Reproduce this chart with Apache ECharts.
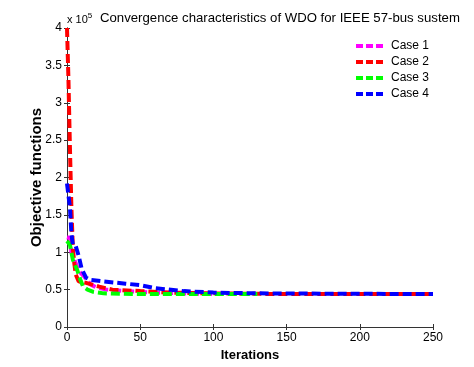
<!DOCTYPE html>
<html><head><meta charset="utf-8">
<script src="https://cdn.jsdelivr.net/npm/echarts@6/dist/echarts.min.js"></script>
<style>html,body{margin:0;padding:0;background:#fff}#c{width:474px;height:367px}</style>
</head><body><div id="c"></div>
<script>
const seriesNames = ['Case 1', 'Case 2', 'Case 3', 'Case 4'];
const xTicks = [0, 50, 100, 150, 200, 250];
const yTicks = [0, 0.5, 1, 1.5, 2, 2.5, 3, 3.5, 4];
// values in units of 1e5, [iteration, value]
const case1 = [[0,1.2],[2,1.19],[3,1.0],[5,0.9],[8,0.75],[12,0.67],[16,0.57],[20,0.53],[27,0.5],[40,0.48],[60,0.46],[80,0.45],[100,0.44]];
const case2 = [[0,4.0],[1,3.3],[2,2.4],[3,1.6],[4,1.05],[5,0.85],[6,0.7],[8,0.61],[13,0.59],[22,0.54],[31,0.5],[50,0.48],[70,0.46],[100,0.45],[150,0.44],[250,0.44]];
const case3 = [[0,1.15],[2,1.1],[4,0.9],[7,0.76],[9,0.64],[11,0.54],[14,0.5],[18,0.47],[25,0.45],[50,0.44],[90,0.44],[130,0.44]];
const case4 = [[0,1.92],[1,1.9],[2,1.6],[3,1.25],[4,1.1],[6,1.08],[8,0.95],[10,0.78],[13,0.66],[16,0.63],[25,0.61],[40,0.58],[50,0.56],[60,0.52],[80,0.48],[100,0.46],[130,0.45],[250,0.44]];
const colors = ['#ff00ff', '#ff0000', '#00ff00', '#0000ff'];
const allData = [case1, case2, case3, case4];

const chart = echarts.init(document.getElementById('c'), null, {renderer: 'canvas'});
const font = 'Liberation Sans, Arial, sans-serif';
const axisCommon = {
  axisLine: {show: true, lineStyle: {color: '#333', width: 1}},
  axisTick: {show: true, inside: true, length: 3, lineStyle: {color: '#333'}},
  splitLine: {show: false}
};
chart.setOption({
  animation: false,
  backgroundColor: '#fff',
  title: {
    text: 'Convergence characteristics of WDO for IEEE 57-bus sustem',
    left: 95, top: 7,
    textStyle: {fontFamily: font, fontSize: 13.2, fontWeight: 'normal', color: '#000'}
  },
  graphic: [{
    type: 'text', left: 67, top: 12,
    style: {
      text: 'x 10{sup|5}',
      rich: {sup: {fontSize: 8, verticalAlign: 'top', padding: [0,0,8,0], fontFamily: font, fill: '#000'}},
      font: '11px ' + font, fill: '#000'
    }
  }],
  legend: {
    orient: 'vertical', left: 349, top: 35,
    itemWidth: 27, itemHeight: 5, itemGap: 4,
    data: seriesNames.map((n, i) => ({name: n, lineStyle: {width: 4, type: [7, 3], color: colors[i]}})),
    textStyle: {fontFamily: font, fontSize: 12, color: '#000', padding: [0,0,0,3]}
  },
  grid: {left: 67, right: 41, top: 28, bottom: 40, containLabel: false},
  xAxis: [{
    type: 'value', min: 0, max: 250, interval: 50,
    name: 'Iterations', nameLocation: 'middle', nameGap: 19,
    nameTextStyle: {fontFamily: font, fontSize: 13, fontWeight: 'bold', color: '#000'},
    axisLabel: {fontFamily: font, fontSize: 12, color: '#000', margin: 5,
      formatter: v => xTicks.includes(v) ? String(v) : ''},
    ...axisCommon
  }, {
    type: 'value', position: 'top', min: 0, max: 250, interval: 50,
    axisLabel: {show: false}, ...axisCommon
  }],
  yAxis: [{
    type: 'value', min: 0, max: 4, interval: 0.5,
    name: 'Objective functions', nameLocation: 'middle', nameGap: 23, nameRotate: 90,
    nameMoveOverlap: false,
    nameTextStyle: {fontFamily: font, fontSize: 15, fontWeight: 'bold', color: '#000'},
    axisLabel: {fontFamily: font, fontSize: 12, color: '#000', margin: 5,
      formatter: v => yTicks.includes(v) ? String(v) : ''},
    ...axisCommon
  }, {
    type: 'value', position: 'right', min: 0, max: 4, interval: 0.5,
    axisLabel: {show: false}, ...axisCommon
  }],
  series: allData.map((d, i) => ({
    name: seriesNames[i], type: 'line', data: d, showSymbol: false, symbol: 'none',
    color: colors[i],
    lineStyle: {color: colors[i], width: 4, type: [9, 4]},
    z: 2 + i
  }))
});
</script></body></html>
